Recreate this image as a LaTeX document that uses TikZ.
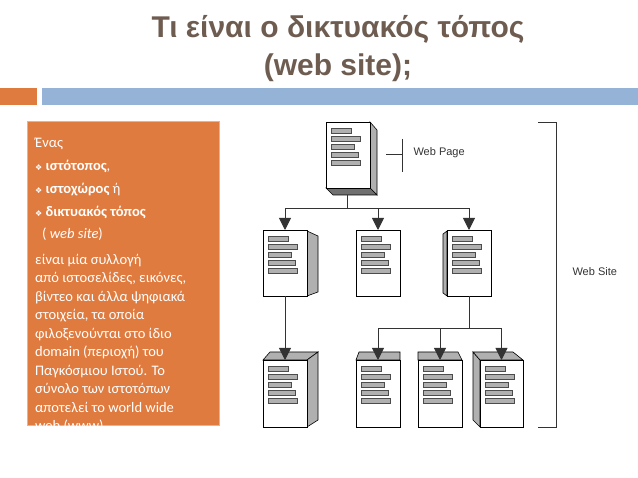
\documentclass[tikz,border=0pt]{standalone}
\usepackage{fontspec}
\setmainfont{Carlito}
\newfontfamily\titlefont{Liberation Sans}
\newfontfamily\symfont{DejaVu Sans}
\usetikzlibrary{arrows.meta}
\definecolor{org}{HTML}{E07B3F}
\definecolor{blu}{HTML}{94B3D6}
\definecolor{ttl}{HTML}{6E5C50}
\definecolor{side}{HTML}{B0B0B0}
\definecolor{dark}{HTML}{707070}
\tikzset{
 docf/.style={draw=black,fill=white,line width=0.8pt,minimum width=#1,inner sep=0,outer sep=0,anchor=north west},
 docf/.default=44pt,
 sidef/.style={draw=black,fill=side,line width=0.6pt},
 conn/.style={line width=0.9pt,draw=black!80},
 arr/.style={conn,-{Triangle[width=12pt,length=12pt]}},
 bar/.style={draw=black!70,fill=side,line width=0.6pt},
}
\newcommand{\mybars}[1]{%
 \foreach \l [count=\i] in {0.55,0.82,0.65,0.75,0.82}{%
  \draw[bar] ([xshift=5pt,yshift={-3pt-8pt*\i}]#1.north west) rectangle ++({\l*36pt},5pt);}}
\begin{document}
\begin{tikzpicture}[x=1pt,y=-1pt]
\useasboundingbox (0,0) rectangle (638,478);
% title
\node[font=\titlefont\bfseries\fontsize{30}{38}\selectfont,text=ttl,align=center] (title) at (338,49) {Τι είναι ο δικτυακός τόπος\\(web site);};
\fill[org] (0,88) rectangle (37,105);
\fill[blu] (42,88) rectangle (638,105);
% orange box
\node[draw=org!60!white,line width=1pt,fill=org,minimum width=192pt,minimum height=304pt,anchor=north west,inner sep=0] (box) at (27,121) {};
\begin{scope}[every node/.style={text=white,anchor=base west,font=\fontsize{14.5}{16}\selectfont,inner sep=0}]
\node (t0) at (35,148) {Ένας};
\node (t1) at (35,171) {{\symfont\fontsize{8}{10}\selectfont ❖} \textbf{ιστότοπος},};
\node (t2) at (35,194) {{\symfont\fontsize{8}{10}\selectfont ❖} \textbf{ιστοχώρος} ή};
\node (t3) at (35,217) {{\symfont\fontsize{8}{10}\selectfont ❖} \textbf{δικτυακός τόπος}};
\node (t4) at (42,239) {( \textit{web site})};
\node[anchor=north west,text width=174pt,align=justify,font=\fontsize{14.5}{18.5}\selectfont] (t5) at (35,254) {\hyphenpenalty=10000 είναι μία συλλογή\\ από ιστοσελίδες, εικόνες,\\ βίντεο και άλλα ψηφιακά\\ στοιχεία, τα οποία\\ φιλοξενούνται στο ίδιο\\ domain (περιοχή) του\\ Παγκόσμιου Ιστού. Το\\ σύνολο των ιστοτόπων\\ αποτελεί το world wide\\ web (www).};
\end{scope}
% top doc
\filldraw[sidef] (370,122) -- (377,130) -- (377,195) -- (370,188) -- cycle;
\filldraw[draw=black,fill=dark,line width=0.6pt] (326,188) -- (370,188) -- (377,195) -- (333,195) -- cycle;
\node[docf,minimum height=66pt] (top) at (326,122) {};
\mybars{top}
% mid docs
\filldraw[sidef] (307,231) -- (318,236) -- (318,292) -- (307,296) -- cycle;
\node[docf,minimum height=66pt] (m1) at (263,230) {}; \mybars{m1}
\node[docf,minimum height=66pt] (m2) at (356,230) {}; \mybars{m2}
\filldraw[sidef] (447,231) -- (443,234) -- (443,293) -- (447,296) -- cycle;
\node[docf,minimum height=66pt] (m3) at (447,230) {}; \mybars{m3}
% bottom docs
\filldraw[sidef] (263,360) -- (270,352) -- (318,352) -- (307,360) -- cycle;
\filldraw[sidef] (307,360) -- (318,352) -- (318,420) -- (307,427) -- cycle;
\node[docf,minimum height=67pt] (b1) at (263,360) {}; \mybars{b1}
\filldraw[sidef] (356,360) -- (359,352) -- (400,352) -- (400,360) -- cycle;
\node[docf,minimum height=67pt] (b2) at (356,360) {}; \mybars{b2}
\filldraw[sidef] (418,360) -- (418,352) -- (458,352) -- (462,360) -- cycle;
\node[docf,minimum height=67pt] (b3) at (418,360) {}; \mybars{b3}
\filldraw[sidef] (473,352) -- (480,360) -- (480,427) -- (473,420) -- cycle;
\filldraw[sidef] (473,352) -- (513,352) -- (523,360) -- (480,360) -- cycle;
\node[docf,minimum height=67pt,minimum width=43pt] (b4) at (480,360) {}; \mybars{b4}
% connectors
\coordinate (j1) at (347,208);
\draw[conn] (347,195) -- (j1);
\draw[arr] (j1) -| (m1.north);
\draw[arr] (j1) -| (m2.north);
\draw[arr] (j1) -| (m3.north);
\draw[arr] (m1.south) -- (b1.north);
\coordinate (j2) at (m3.south |- 0,328);
\draw[conn] (m3.south) -- (j2);
\draw[arr] (j2) -| (b2.north);
\draw[arr] (j2) -- (b3.north |- j2) -- (b3.north);
\draw[arr] (j2) -| (b4.north);
% labels
\coordinate (wp1) at (386,154);
\coordinate (wp2) at (402,154);
\draw[conn,line width=0.6pt] (wp1) -- (wp2);
\draw[conn,line width=0.6pt] (402,139) -- (402,172);
\node[font=\titlefont\fontsize{11}{13}\selectfont,anchor=west,text=black!80] (wp) at (410,153) {Web Page};
\draw[conn,line width=0.6pt] (538,122) -- (556,122) -- (556,427) -- (538,427);
\node[font=\titlefont\fontsize{11}{13}\selectfont,anchor=west,text=black!80] (ws) at (569,272) {Web Site};
\end{tikzpicture}
\end{document}
